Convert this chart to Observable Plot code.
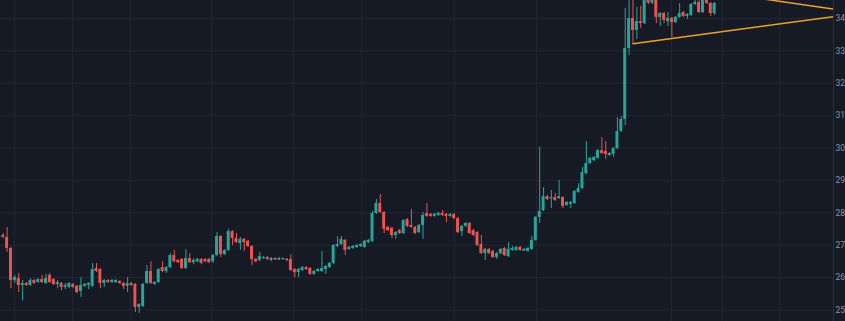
<!DOCTYPE html>
<html>
<head>
<meta charset="utf-8">
<script src="https://cdn.jsdelivr.net/npm/d3@7"></script>
<script src="https://cdn.jsdelivr.net/npm/@observablehq/plot@0.6"></script>
<style>
  html, body { margin: 0; padding: 0; background: #161a25; overflow: hidden; }
  #chart svg { display: block; }
</style>
</head>
<body>
<div id="chart"></div>
<script>
// Candle values (price), one entry per bar
const open = [
27.30,27.24,26.90,25.91,25.97,25.76,25.82,25.76,25.91,25.85,
25.94,25.82,26.07,25.94,25.79,25.82,25.70,25.70,25.79,25.73,
25.57,25.73,25.76,25.73,26.28,26.25,25.82,25.91,25.85,25.85,
25.88,25.82,25.73,25.82,25.79,25.08,25.11,25.82,26.19,25.79,
25.85,26.31,26.19,26.31,26.68,26.53,26.56,26.28,26.59,26.46,
26.49,26.56,26.56,26.56,26.49,26.68,27.27,26.71,26.84,27.42,
27.21,27.05,27.18,27.12,26.96,26.56,26.53,26.59,26.62,26.53,
26.59,26.54,26.56,26.57,26.56,26.25,26.16,26.22,26.31,26.28,
26.10,26.19,26.19,26.25,26.31,26.44,26.96,27.02,27.15,26.87,
26.90,26.93,26.96,26.93,27.08,27.12,27.98,28.29,28.01,27.55,
27.52,27.30,27.45,27.36,27.79,27.61,27.55,27.39,27.61,27.98,
27.95,27.89,27.92,27.98,27.95,27.89,27.95,27.82,27.42,27.58,
27.67,27.45,27.39,27.02,26.74,26.87,26.81,26.62,26.74,26.90,
26.65,26.84,26.84,26.93,26.82,26.81,26.87,27.15,27.86,28.07,
28.50,28.43,28.47,28.44,28.47,28.23,28.26,28.29,28.63,28.75,
29.21,29.52,29.61,29.68,29.92,29.89,29.77,29.80,29.98,30.51,
30.88,33.07,34.00,33.63,33.90,33.84,34.74,34.47,34.64,34.03,
34.15,33.90,34.00,33.87,34.03,34.18,34.06,34.09,34.43,34.49,
34.18,34.61,34.46,34.15
];
const high = [
27.36,27.55,26.93,26.07,26.13,25.91,25.85,25.97,25.94,25.97,
26.07,26.10,26.13,25.97,25.91,25.85,25.82,25.85,25.82,25.76,
26.00,25.82,25.85,26.44,26.44,26.28,25.94,25.94,25.94,25.94,
25.91,25.85,26.00,25.85,25.82,25.20,25.82,26.37,26.49,25.88,
26.28,26.49,26.34,26.74,26.84,26.56,26.59,26.87,26.74,26.59,
26.59,26.59,26.59,26.59,26.71,27.39,27.30,26.87,27.49,27.45,
27.36,27.24,27.21,27.15,26.99,26.59,26.78,26.65,26.65,26.62,
26.62,26.62,26.61,26.59,26.71,26.28,26.28,26.34,26.34,26.31,
26.22,26.28,26.81,26.37,26.46,27.02,27.27,27.27,27.18,26.96,
26.99,27.02,27.05,27.15,27.18,28.04,28.41,28.57,28.04,27.58,
27.55,27.42,27.49,27.79,27.82,28.10,27.58,27.64,28.01,28.29,
27.98,27.98,28.01,28.07,27.98,27.98,27.98,27.86,27.61,27.70,
27.70,27.49,27.42,27.30,26.90,26.90,26.84,26.78,26.90,26.93,
27.08,26.96,26.96,26.96,26.90,26.93,27.27,27.89,30.02,28.78,
28.53,28.69,28.60,29.00,28.50,28.35,28.35,28.69,28.90,29.40,
30.20,29.71,29.74,29.95,30.32,30.20,29.86,30.02,30.94,30.97,
34.31,34.64,34.61,34.34,34.37,34.92,34.86,34.80,34.74,34.18,
34.18,34.18,34.03,34.06,34.46,34.21,34.15,34.46,34.61,34.61,
34.71,34.68,34.49,34.49
];
const low = [
27.21,26.78,25.66,25.82,25.54,25.28,25.73,25.73,25.79,25.82,
25.82,25.79,25.82,25.76,25.66,25.60,25.63,25.66,25.66,25.51,
25.39,25.70,25.63,25.70,26.16,25.66,25.70,25.82,25.82,25.82,
25.79,25.63,25.54,25.73,24.92,24.89,25.08,25.79,25.79,25.76,
25.82,26.16,26.13,26.28,26.46,26.44,26.25,26.25,26.44,26.40,
26.46,26.40,26.46,26.44,26.44,26.65,26.62,26.68,26.81,26.99,
27.05,26.84,26.81,26.93,26.37,26.46,26.49,26.56,26.53,26.49,
26.53,26.53,26.53,26.49,26.19,26.00,26.00,26.19,26.22,26.07,
26.07,26.16,26.16,26.10,26.28,26.40,26.93,26.99,26.68,26.84,
26.87,26.90,26.93,26.90,27.05,27.08,27.95,27.98,27.36,27.42,
27.21,27.18,27.33,27.33,27.55,27.52,27.33,27.36,27.18,27.86,
27.86,27.86,27.89,27.89,27.70,27.86,27.79,27.36,27.27,27.55,
27.33,27.27,26.96,26.71,26.53,26.71,26.59,26.56,26.71,26.65,
26.62,26.81,26.81,26.81,26.81,26.78,26.84,27.12,27.67,28.04,
28.38,28.13,28.35,28.41,28.13,28.20,28.13,28.26,28.60,28.72,
29.18,29.49,29.58,29.65,29.80,29.65,29.74,29.71,29.95,30.48,
30.69,32.85,33.22,33.35,33.69,33.81,34.43,34.43,33.84,33.75,
33.84,33.75,33.41,33.84,34.00,34.03,33.97,34.06,34.40,34.15,
34.15,34.43,34.06,34.09
];
const close = [
27.24,26.90,25.91,26.00,25.76,25.82,25.76,25.91,25.82,25.94,
25.85,25.97,25.85,25.79,25.85,25.70,25.76,25.82,25.70,25.54,
25.76,25.79,25.82,26.25,26.19,25.82,25.91,25.85,25.91,25.91,
25.82,25.73,25.82,25.76,25.08,25.17,25.79,26.19,25.82,25.85,
26.25,26.19,26.31,26.68,26.49,26.46,26.28,26.59,26.46,26.53,
26.56,26.44,26.49,26.46,26.68,27.27,26.71,26.84,27.42,27.21,
27.08,27.18,27.08,26.96,26.56,26.49,26.65,26.62,26.56,26.59,
26.55,26.59,26.59,26.53,26.22,26.16,26.25,26.31,26.25,26.10,
26.19,26.25,26.28,26.34,26.44,26.99,27.02,27.18,26.84,26.93,
26.96,26.99,27.02,27.12,27.15,27.98,28.29,28.01,27.49,27.45,
27.30,27.39,27.36,27.76,27.58,27.55,27.36,27.61,27.92,27.89,
27.89,27.95,27.98,27.92,27.89,27.95,27.82,27.39,27.58,27.67,
27.36,27.30,26.99,26.74,26.87,26.74,26.62,26.74,26.87,26.68,
26.87,26.90,26.93,26.84,26.87,26.90,27.15,27.86,28.04,28.50,
28.41,28.47,28.38,28.50,28.20,28.32,28.32,28.66,28.75,29.24,
29.52,29.68,29.71,29.92,29.83,29.80,29.83,29.98,30.51,30.88,
33.07,34.00,33.63,33.90,33.84,34.80,34.47,34.68,34.03,34.15,
33.94,34.00,33.87,34.03,34.15,34.06,34.12,34.43,34.49,34.18,
34.64,34.46,34.15,34.46
];
// Price axis ticks and time grid (bar positions of the vertical grid lines)
const priceTicks = [25, 26, 27, 28, 29, 30, 31, 32, 33, 34];
const timeGrid = [2.9, 17.8, 32.7, 53.6, 74.7, 92.2, 116.1, 137.2, 171.9, 185.0, 199.7];
// Triangle trend lines (bar index, price)
const upperLine = [{i: 166, p: 35.11}, {i: 214, p: 34.28}];
const lowerLine = [{i: 162, p: 33.22}, {i: 214, p: 34.06}];

const xDomain = [-0.695, 213.58];
const yDomain = [24.646, 34.552];

const UP = "#26a69a", DOWN = "#ef5350", GRID = "#232734", BG = "#161a25";

const bars = open.map((o, i) => ({
  i, open: o, high: high[i], low: low[i], close: close[i],
  lo: Math.min(o, close[i]), hi: Math.max(o, close[i]),
  color: close[i] >= o ? UP : DOWN
}));

const chart = Plot.plot({
  width: 845,
  height: 321,
  marginLeft: 0,
  marginRight: 12,
  marginTop: 0,
  marginBottom: 0,
  style: {background: BG, fontFamily: "Roboto, 'DejaVu Sans', sans-serif", overflow: "hidden"},
  x: {domain: xDomain, axis: null},
  y: {domain: yDomain, axis: null},
  marks: [
    Plot.ruleY(priceTicks, {stroke: GRID, strokeWidth: 1}),
    Plot.ruleX(timeGrid, {stroke: GRID, strokeWidth: 1}),
    Plot.ruleX([xDomain[1]], {stroke: "#2a2e39", strokeWidth: 1}),
    Plot.ruleX(bars, {x: "i", y1: "low", y2: "high", stroke: "color", strokeWidth: 1, clip: true}),
    Plot.rect(bars, {
      x1: d => d.i - 0.38, x2: d => d.i + 0.38,
      y1: "lo", y2: "hi", fill: "color", clip: true
    }),
    Plot.line(upperLine, {x: "i", y: "p", stroke: "#f0a030", strokeWidth: 1.5, clip: true}),
    Plot.line(lowerLine, {x: "i", y: "p", stroke: "#f0a030", strokeWidth: 1.5, clip: true}),
    Plot.axisY(priceTicks, {
      anchor: "right", tickSize: 0, tickPadding: 2,
      tickFormat: d => String(d), fill: "#8f929c", fontSize: 8.5
    })
  ]
});
document.getElementById("chart").appendChild(chart);
</script>
</body>
</html>
